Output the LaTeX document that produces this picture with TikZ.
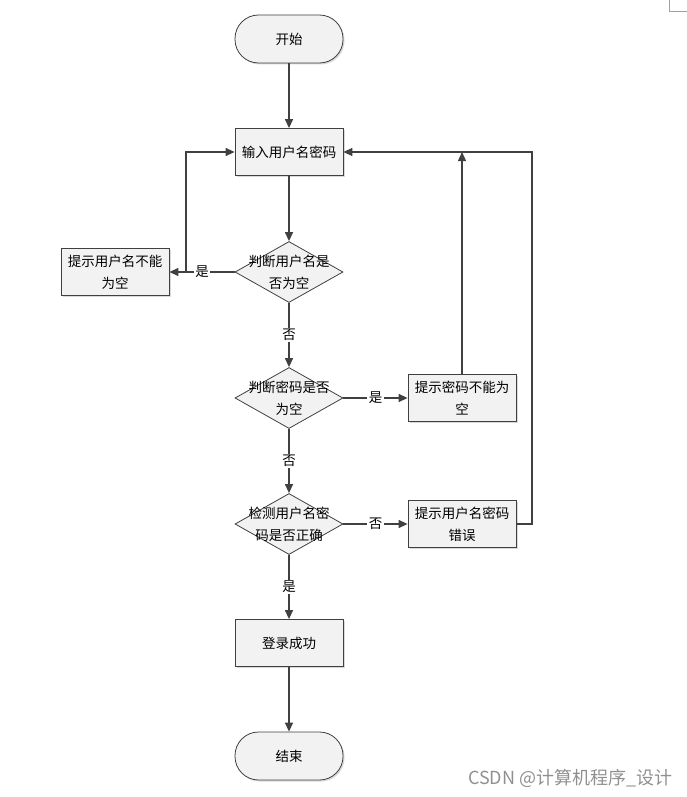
\documentclass[tikz,border=0pt]{standalone}
\usepackage{fontspec}
\newfontfamily\cjk{Noto Sans CJK SC}
\usetikzlibrary{shapes.geometric,arrows.meta,shadows}
\definecolor{linegray}{HTML}{404040}
\definecolor{boxgray}{HTML}{F2F2F2}
\definecolor{markgray}{HTML}{A0A0A0}
\tikzset{
  base/.style={draw=linegray, line width=0.8pt, fill=boxgray,
    drop shadow={shadow xshift=1.5pt, shadow yshift=-1.5pt, opacity=0.3}},
  terminal/.style={base, rectangle, rounded corners=23.5pt, minimum width=108pt, minimum height=48pt},
  process/.style={base, rectangle, minimum width=108pt, minimum height=47pt, align=center},
  decision/.style={draw=linegray, line width=0.8pt, fill=boxgray, diamond,
    minimum width=108pt, minimum height=61pt, inner sep=0pt},
  txt/.style={align=center},
  line/.style={draw=linegray, line width=1.3pt},
  arrow/.style={line, -{Triangle[length=9pt,width=8pt]}},
  lbl/.style={fill=white, inner sep=1.5pt}
}
\begin{document}
\begin{tikzpicture}[x=1pt, y=-1pt,
  font=\cjk\fontsize{13.5pt}{22pt}\selectfont]
\useasboundingbox (0,0) rectangle (687,797);

\node[terminal] (start) at (289,39) {开始};
\node[process] (input) at (289,152) {输入用户名密码};

\node[decision] (d1) at (289,272) {};
\node[txt] (d1t) at (d1) {判断用户名是\\否为空};
\node[process] (t1) at (115,272) {提示用户名不能\\为空};

\node[decision] (d2) at (289,398) {};
\node[txt] (d2t) at (d2) {判断密码是否\\为空};
\node[process] (t2) at (462,398) {提示密码不能为\\空};

\node[decision] (d3) at (289,524) {};
\node[txt] (d3t) at (d3) {检测用户名密\\码是否正确};
\node[process] (t3) at (462,524) {提示用户名密码\\错误};

\node[process] (ok) at (289,643) {登录成功};
\node[terminal] (stop) at (289,756) {结束};

\coordinate (l) at (186,272);
\coordinate (r) at (532,152);

% main line
\draw[arrow] (start) -- (input);
\draw[arrow] (input) -- (d1);
\draw[arrow] (d1) -- node[lbl] {否} (d2);
\draw[arrow] (d2) -- node[lbl] {否} (d3);
\draw[arrow] (d3) -- node[lbl] {是} (ok);
\draw[arrow] (ok) -- (stop);

% branches
\draw[arrow] (d1.west) -- node[lbl] {是} (t1.east);
\draw[arrow] (l) |- (input.west);
\draw[arrow] (d2.east) -- node[lbl] {是} (t2.west);
\draw[arrow] (t2.north) -- (t2.north |- r);
\draw[arrow] (d3.east) -- node[lbl] {否} (t3.west);
\draw[arrow] (t3.east) -| (r) -- (input.east);

\draw[markgray, line width=0.8pt] (669,0) -- (669,11) -- (687,11);
\node[text=markgray!90!black, font=\cjk\fontsize{18pt}{20pt}\selectfont, anchor=east] (mark) at (676,778) {CSDN @计算机程序\_设计};
\end{tikzpicture}
\end{document}
